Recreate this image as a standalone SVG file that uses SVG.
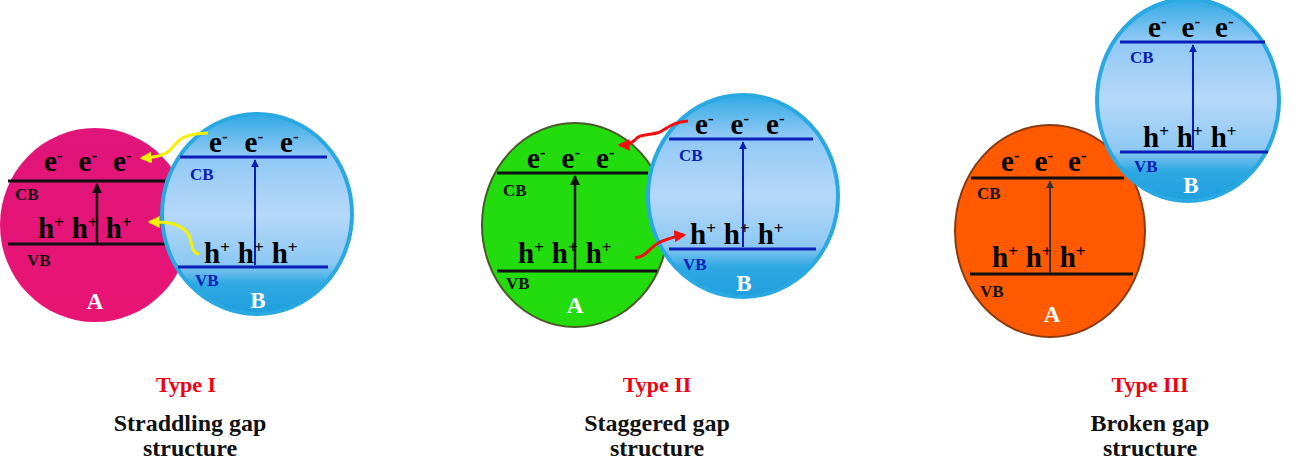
<svg xmlns="http://www.w3.org/2000/svg" width="1301" height="476" viewBox="0 0 1301 476">
<style>
.t{font-family:"Liberation Serif","Times New Roman",serif;font-weight:bold}
.car{font-size:29px;fill:#000}
.sup{font-size:17px}
.lb{font-size:17px}
.lk{fill:#111}
.lbl{fill:#0a1fb8}
.AB{font-size:23px;fill:#fff}
.band{stroke:#111;stroke-width:3}
.bandB{stroke:#0a1fb8;stroke-width:3}
.ttl{font-size:22px;fill:#f00010;text-anchor:middle}
.cap{font-size:24px;fill:#111;text-anchor:middle}
</style>
<defs>
<linearGradient id="gB" x1="0" y1="0" x2="0" y2="1">
<stop offset="0" stop-color="#2fa9e4"/><stop offset="0.2" stop-color="#8ec8f4"/><stop offset="0.5" stop-color="#b6d8fa"/><stop offset="0.75" stop-color="#8cc8f2"/><stop offset="0.85" stop-color="#2fa8e2"/><stop offset="1" stop-color="#1ea0de"/>
</linearGradient>
<linearGradient id="gP" x1="0" y1="0" x2="0" y2="1"><stop offset="0" stop-color="#e0157a"/><stop offset="1" stop-color="#e81474"/></linearGradient>
<marker id="ak" viewBox="0 0 10 10" refX="9" refY="5" markerWidth="4" markerHeight="4" orient="auto"><path d="M0,0L10,5L0,10z" fill="#111"/></marker>
<marker id="ag" viewBox="0 0 10 10" refX="9" refY="5" markerWidth="4" markerHeight="4" orient="auto"><path d="M0,0L10,5L0,10z" fill="#333"/></marker>
<marker id="ab" viewBox="0 0 10 10" refX="9" refY="5" markerWidth="4" markerHeight="4" orient="auto"><path d="M0,0L10,5L0,10z" fill="#0a1fb8"/></marker>
<marker id="ay" viewBox="0 0 10 10" refX="8" refY="5" markerWidth="4" markerHeight="4" orient="auto"><path d="M0,0L10,5L0,10z" fill="#f4f000"/></marker>
<marker id="ar" viewBox="0 0 10 10" refX="8" refY="5" markerWidth="4" markerHeight="4" orient="auto"><path d="M0,0L10,5L0,10z" fill="#f01010"/></marker>
</defs>

<!-- Type I -->
<g id="t1A">
<ellipse cx="95" cy="225" rx="95" ry="97" fill="url(#gP)"/>
<line class="band" x1="8" y1="181" x2="165" y2="181"/>
<line class="band" x1="8" y1="244" x2="165" y2="244"/>
<line x1="97" y1="243" x2="97" y2="184" stroke="#111" stroke-width="2.5" marker-end="url(#ak)"/>
<text class="t car" x="44" y="171">e<tspan class="sup" dy="-10">-</tspan><tspan dy="10" dx="16">e</tspan><tspan class="sup" dy="-10">-</tspan><tspan dy="10" dx="16">e</tspan><tspan class="sup" dy="-10">-</tspan></text>
<text class="t car" x="38" y="238">h<tspan class="sup" dy="-10">+</tspan><tspan dy="10" dx="8">h</tspan><tspan class="sup" dy="-10">+</tspan><tspan dy="10" dx="8">h</tspan><tspan class="sup" dy="-10">+</tspan></text>
<text class="t lb lk" x="15" y="200">CB</text>
<text class="t lb lk" x="27" y="266">VB</text>
<text class="t AB" x="95" y="309" text-anchor="middle">A</text>
</g>
<g id="t1B">
<ellipse cx="257" cy="214" rx="95" ry="100" fill="url(#gB)" stroke="#29a8e2" stroke-width="4"/>
<line class="bandB" x1="180" y1="157" x2="327" y2="157"/>
<line class="bandB" x1="178" y1="267" x2="328" y2="267"/>
<line x1="255" y1="265" x2="255" y2="160" stroke="#0a1fb8" stroke-width="2" marker-end="url(#ab)"/>
<text class="t car" x="209" y="152">e<tspan class="sup" dy="-10">-</tspan><tspan dy="10" dx="17">e</tspan><tspan class="sup" dy="-10">-</tspan><tspan dy="10" dx="17">e</tspan><tspan class="sup" dy="-10">-</tspan></text>
<text class="t car" x="204" y="263">h<tspan class="sup" dy="-10">+</tspan><tspan dy="10" dx="8">h</tspan><tspan class="sup" dy="-10">+</tspan><tspan dy="10" dx="8">h</tspan><tspan class="sup" dy="-10">+</tspan></text>
<text class="t lb lbl" x="190" y="180">CB</text>
<text class="t lb lbl" x="195" y="286">VB</text>
<text class="t AB" x="258" y="308" text-anchor="middle">B</text>
</g>

<!-- Type II -->
<g id="t2A">
<ellipse cx="575" cy="225" rx="93" ry="102" fill="#22dc0e" stroke="#4a5a2a" stroke-width="2"/>
<line class="band" x1="497" y1="173" x2="648" y2="173"/>
<line class="band" x1="497" y1="271" x2="657" y2="271"/>
<line x1="575" y1="270" x2="575" y2="176" stroke="#111" stroke-width="2.5" marker-end="url(#ak)"/>
<text class="t car" x="527" y="168">e<tspan class="sup" dy="-10">-</tspan><tspan dy="10" dx="16">e</tspan><tspan class="sup" dy="-10">-</tspan><tspan dy="10" dx="16">e</tspan><tspan class="sup" dy="-10">-</tspan></text>
<text class="t car" x="518" y="263">h<tspan class="sup" dy="-10">+</tspan><tspan dy="10" dx="8">h</tspan><tspan class="sup" dy="-10">+</tspan><tspan dy="10" dx="8">h</tspan><tspan class="sup" dy="-10">+</tspan></text>
<text class="t lb lk" x="503" y="196">CB</text>
<text class="t lb lk" x="506" y="289">VB</text>
<text class="t AB" x="575" y="313" text-anchor="middle">A</text>
</g>
<g id="t2B">
<ellipse cx="743" cy="196" rx="95" ry="101" fill="url(#gB)" stroke="#29a8e2" stroke-width="4"/>
<line class="bandB" x1="669" y1="139" x2="813" y2="139"/>
<line class="bandB" x1="669" y1="249" x2="816" y2="249"/>
<line x1="743" y1="247" x2="743" y2="142" stroke="#0a1fb8" stroke-width="2" marker-end="url(#ab)"/>
<text class="t car" x="695" y="134">e<tspan class="sup" dy="-10">-</tspan><tspan dy="10" dx="17">e</tspan><tspan class="sup" dy="-10">-</tspan><tspan dy="10" dx="17">e</tspan><tspan class="sup" dy="-10">-</tspan></text>
<text class="t car" x="690" y="244">h<tspan class="sup" dy="-10">+</tspan><tspan dy="10" dx="8">h</tspan><tspan class="sup" dy="-10">+</tspan><tspan dy="10" dx="8">h</tspan><tspan class="sup" dy="-10">+</tspan></text>
<text class="t lb lbl" x="679" y="161">CB</text>
<text class="t lb lbl" x="683" y="270">VB</text>
<text class="t AB" x="744" y="291" text-anchor="middle">B</text>
</g>

<!-- Type III -->
<g id="t3A">
<ellipse cx="1050" cy="231" rx="95" ry="106" fill="#ff5a00" stroke="#8a3a10" stroke-width="2"/>
<line class="band" x1="971" y1="178" x2="1124" y2="178"/>
<line class="band" x1="970" y1="274" x2="1133" y2="274"/>
<line x1="1050" y1="273" x2="1050" y2="181" stroke="#333" stroke-width="2" marker-end="url(#ag)"/>
<text class="t car" x="1001" y="171">e<tspan class="sup" dy="-10">-</tspan><tspan dy="10" dx="15">e</tspan><tspan class="sup" dy="-10">-</tspan><tspan dy="10" dx="15">e</tspan><tspan class="sup" dy="-10">-</tspan></text>
<text class="t car" x="992" y="267">h<tspan class="sup" dy="-10">+</tspan><tspan dy="10" dx="8">h</tspan><tspan class="sup" dy="-10">+</tspan><tspan dy="10" dx="8">h</tspan><tspan class="sup" dy="-10">+</tspan></text>
<text class="t lb lk" x="977" y="199">CB</text>
<text class="t lb lk" x="980" y="297">VB</text>
<text class="t AB" x="1052" y="322" text-anchor="middle">A</text>
</g>
<g id="t3B">
<ellipse cx="1188" cy="100" rx="91" ry="101" fill="url(#gB)" stroke="#29a8e2" stroke-width="4"/>
<line class="bandB" x1="1120" y1="42" x2="1265" y2="42"/>
<line class="bandB" x1="1120" y1="152" x2="1268" y2="152"/>
<line x1="1193" y1="150" x2="1193" y2="45" stroke="#0a1fb8" stroke-width="2" marker-end="url(#ab)"/>
<text class="t car" x="1148" y="37">e<tspan class="sup" dy="-10">-</tspan><tspan dy="10" dx="15">e</tspan><tspan class="sup" dy="-10">-</tspan><tspan dy="10" dx="15">e</tspan><tspan class="sup" dy="-10">-</tspan></text>
<text class="t car" x="1143" y="147">h<tspan class="sup" dy="-10">+</tspan><tspan dy="10" dx="8">h</tspan><tspan class="sup" dy="-10">+</tspan><tspan dy="10" dx="8">h</tspan><tspan class="sup" dy="-10">+</tspan></text>
<text class="t lb lbl" x="1130" y="63">CB</text>
<text class="t lb lbl" x="1134" y="172">VB</text>
<text class="t AB" x="1191" y="193" text-anchor="middle">B</text>
</g>

<g id="connectors" fill="none" stroke-width="3">
<path d="M208,133 C185,134 180,138 172,148 C166,155 158,157 142,158" stroke="#f4f000" marker-end="url(#ay)"/>
<path d="M199,254 C188,252 195,238 185,230 C175,222 165,222 150,222" stroke="#f4f000" marker-end="url(#ay)"/>
<path d="M688,121 C672,122 668,128 660,132 C650,136 640,133 635,140 C630,144 628,145 620,145" stroke="#f01010" marker-end="url(#ar)"/>
<path d="M635,258 C648,256 648,248 660,242 C670,238 676,236 684,235" stroke="#f01010" marker-end="url(#ar)"/>
</g>

<g id="captions">
<text class="t ttl" x="186" y="392">Type  I</text>
<text class="t ttl" x="657" y="392">Type  II</text>
<text class="t ttl" x="1150" y="392">Type  III</text>
<text class="t cap" x="190" y="431">Straddling gap</text>
<text class="t cap" x="190" y="456">structure</text>
<text class="t cap" x="657" y="431">Staggered gap</text>
<text class="t cap" x="657" y="456">structure</text>
<text class="t cap" x="1150" y="431">Broken gap</text>
<text class="t cap" x="1150" y="456">structure</text>
</g>
</svg>
